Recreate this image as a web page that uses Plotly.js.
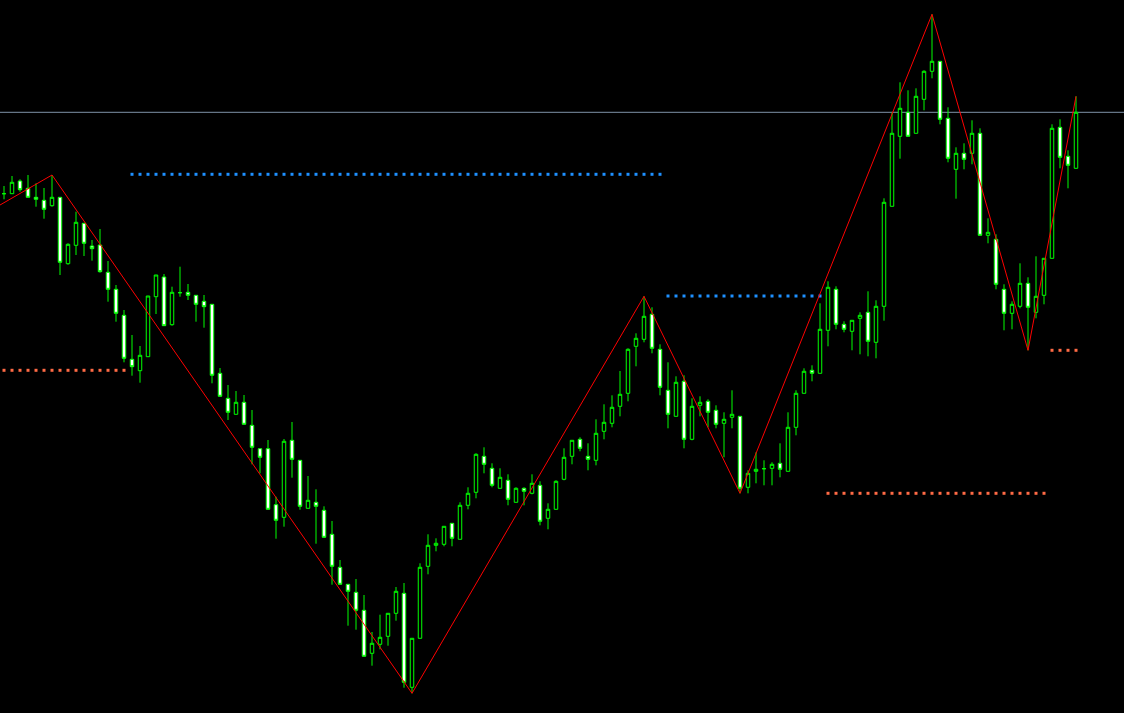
<!DOCTYPE html>
<html>
<head>
<meta charset="utf-8">
<script src="https://cdn.plot.ly/plotly-3.0.1.min.js"></script>
<style>
html,body{margin:0;padding:0;background:#000;overflow:hidden;}
#chart{width:1124px;height:713px;}
</style>
</head>
<body>
<div id="chart"></div>
<script>
// OHLC values per bar (arbitrary price units)
var openV = [519.3,519.3,532,524.7,515.7,512.7,507.3,515.7,449.3,467.7,
  489.7,467,468,440.7,423.7,397.7,353.7,342.3,356.3,416.3,
  436,388.3,420.3,420.7,417.7,411.7,408.7,339.7,314.7,298.7,
  310.7,287.7,264.3,264.3,208.3,195.7,272.7,252.7,204.7,210.7,
  202.7,178.7,145.7,128.7,120.7,102.7,59.7,68.7,76.7,99.7,
  119.7,25.7,74.7,146.7,167.7,168.7,189.7,173.7,207.7,220.7,
  256.7,244.7,224.7,232.7,210.7,224.7,219.7,227.7,194.7,203.7,
  233.7,256.7,273.7,256.7,252.7,281.7,289.7,306.7,319.7,366.7,
  373.7,398.7,363.7,322.7,296.7,331.7,273.7,307.7,311.7,302.7,
  289.7,295.7,296.7,225.7,241.7,244.3,244.7,249.7,241.7,285.7,
  319.7,342.7,339.7,382.7,423.7,388.7,381.7,394.7,400.7,370.7,
  406.7,506.7,576.7,600.7,579.7,613.7,641.7,651.7,594.7,543.7,
  559.7,559.7,579.7,477.7,473.7,423.7,399.7,406.7,429.7,400.7,
  417.7,454.7,585.7,556.7,544.7];
var highV = [527,537,533.7,538,529.7,525,538,515.7,469.7,501.3,
  489.7,473,484,452,428,403,378,367,417,438,
  439,426.3,446.3,429,417.7,418,408.7,345,328,322,
  318,303,264.3,273,216.3,274,291,252.7,237,223.7,
  206.7,192,153,128.7,134,118,81,98.3,99.7,126,
  130,74.7,149.7,178.7,174.7,186.7,189.7,210.7,225.7,259.7,
  265.7,249.7,244.7,238.7,225.7,225.7,238.7,231.7,209.7,232.7,
  264.7,272.7,275.7,269.7,293.7,308.7,317.7,342,364.7,379.7,
  416.7,405.7,368.7,350.7,336.7,337.7,314.7,316.7,313.7,307.7,
  300.7,322.7,296.7,242.7,260.7,252.7,250.7,269.7,300.7,322.7,
  344.7,347.7,409.7,431.7,426.7,391.7,392.7,400.7,421.7,412.7,
  514.7,600.7,630.7,622.7,624.7,642.7,698.7,651.7,605.7,565.7,
  569.7,592.7,584.7,494.7,478.7,428.7,411.7,449.7,435.7,456.7,
  454.7,588.7,593.7,562.7,616.7];
var lowV = [513.7,519,521.3,515.7,506.3,494.3,506.3,438,448.3,458,
  457,452.3,440.3,411.3,391.3,350.7,337.3,330.3,356.3,399,
  387.3,387.3,416.3,413,391.3,385.3,329.7,316.7,293,298.7,
  288.7,248.7,239.7,203.7,174.3,186.3,235.3,203.3,204.7,169.3,
  175.7,128.3,128.7,87.3,83.3,56.7,47.3,63.7,67.3,92.3,
  25.3,19.7,74.7,138.7,161.7,166.7,166.7,173.7,203.7,214.7,
  239.7,225.7,224.7,207.7,210.7,207.7,218.7,187.7,183.7,203.7,
  232.7,248.7,261.7,242.7,247.7,273.7,285.7,296.7,311.7,346.7,
  370.7,359.7,317.7,284.7,296.7,264.7,272.7,296.7,285.7,284.7,
  255.7,284.7,219.7,219.7,229.7,227.7,227.7,235.7,241.7,277.7,
  319.7,331.7,339.7,366.7,383.7,380.7,362.7,358.7,356.7,354.7,
  392.3,506.7,554.3,576.7,579.7,602.7,634.7,588.7,550.7,514.3,
  543.7,548.7,477.7,469.7,423.7,382.7,383.7,404.7,362.7,394.7,
  408.7,454.7,544.7,524.7,544.7];
var closeV = [519.3,530.7,523.3,515.7,513.7,503.7,515.7,450.7,468.7,490.7,
  469.7,464.3,441.3,423.7,399.7,354.7,346.3,357.7,417,438,
  387.3,420.7,420.3,417.7,408.7,406.3,337.7,316.7,300.7,310.7,
  288.7,265.7,255.7,203.7,192.7,271.7,253.7,206.7,212.7,206.7,
  175.7,146.7,128.7,121.7,102.7,56.7,69.7,75.7,99.7,121.7,
  30.7,74.7,145.7,167.7,169.7,186.7,174.7,207.7,219.7,258.7,
  248.7,227.7,235.7,213.7,224.7,221.7,229.7,191.7,203.7,231.7,
  255.7,272.7,264.7,253.7,279.7,290.7,305.7,318.7,363.7,374.7,
  396.7,364.7,325.7,298.7,330.7,273.7,306.7,310.7,300.7,288.7,
  293.7,298.7,224.7,239.7,243.7,244.3,248.7,243.7,285.7,319.7,
  341.7,339.7,383.7,425.7,388.7,383.7,392.7,397.7,371.7,406.7,
  510.7,579.7,604.7,576.7,616.7,641.7,651.7,593.7,554.7,559.7,
  553.7,579.7,477.7,480.7,428.7,399.7,408.7,429.7,405.7,416.7,
  454.7,584.7,555.7,547.7,600.7];

// ZigZag turning points (bar index, price)
var zigzagBars = [-0.5, 6, 51, 80, 92, 116, 128, 134];
var zigzagPrices = [508, 538, 19.7, 416.7, 219.7, 698.7, 362.7, 616.7];

// Dotted level segments (first bar, last bar, price, kind)
var levelStart = [0, 16, 83, 103, 131];
var levelEnd   = [15, 82, 102, 130, 134];
var levelPrice = [342.7, 538.7, 417, 219.7, 362.7];
var levelKind  = ['support', 'resistance', 'resistance', 'support', 'support'];

var bars = [];
for (var i = 0; i < openV.length; i++) bars.push(i);

var resX = [], resY = [], supX = [], supY = [];
for (var k = 0; k < levelStart.length; k++) {
  for (var b = levelStart[k]; b <= levelEnd[k]; b++) {
    if (levelKind[k] === 'resistance') { resX.push(b); resY.push(levelPrice[k]); }
    else { supX.push(b); supY.push(levelPrice[k]); }
  }
}

var lastClose = closeV[closeV.length - 1];

var traces = [
  {
    type: 'candlestick',
    x: bars, open: openV, high: highV, low: lowV, close: closeV,
    increasing: {line: {color: '#00ff00', width: 1}, fillcolor: '#000000'},
    decreasing: {line: {color: '#00ff00', width: 1}, fillcolor: '#ffffff'},
    whiskerwidth: 0,
    hoverinfo: 'skip'
  },
  {
    type: 'scatter', mode: 'markers', x: resX, y: resY,
    marker: {symbol: 'square', size: 3, color: '#1e90ff', line: {width: 0}},
    hoverinfo: 'skip'
  },
  {
    type: 'scatter', mode: 'markers', x: supX, y: supY,
    marker: {symbol: 'square', size: 3, color: '#ff6a45', line: {width: 0}},
    hoverinfo: 'skip'
  },
  {
    type: 'scatter', mode: 'lines', x: zigzagBars, y: zigzagPrices,
    line: {color: '#ff0000', width: 1},
    hoverinfo: 'skip'
  }
];

var layout = {
  width: 1124, height: 713,
  margin: {l: 0, r: 0, t: 0, b: 0, pad: 0},
  paper_bgcolor: '#000000', plot_bgcolor: '#000000',
  showlegend: false,
  boxgap: 0.38,
  xaxis: {range: [-0.5, 140], visible: false, showgrid: false, zeroline: false,
          rangeslider: {visible: false}, fixedrange: true},
  yaxis: {range: [0, 713], visible: false, showgrid: false, zeroline: false, fixedrange: true},
  shapes: [{
    type: 'line', xref: 'paper', x0: 0, x1: 1, yref: 'y', y0: lastClose, y1: lastClose,
    line: {color: '#7f93a8', width: 1}, layer: 'below'
  }],
  hovermode: false
};

Plotly.newPlot('chart', traces, layout, {displayModeBar: false, staticPlot: true});
</script>
</body>
</html>
